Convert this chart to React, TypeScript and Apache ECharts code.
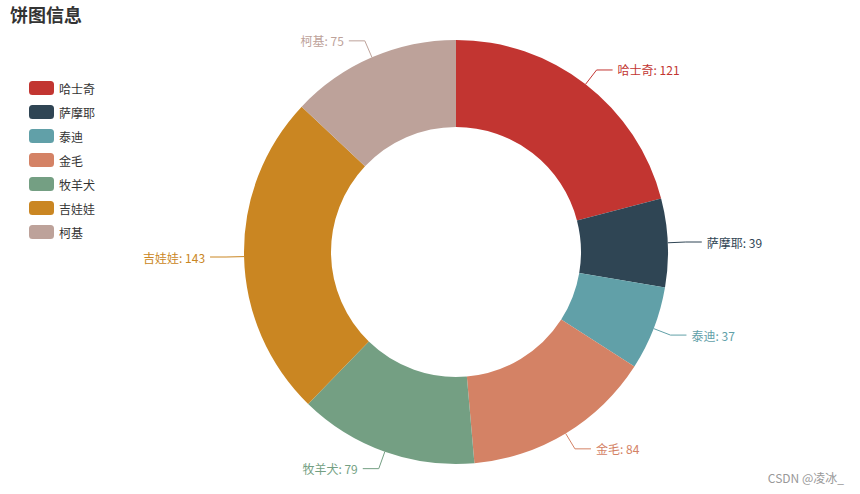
import { useEffect, useRef } from 'react'
import * as echarts from 'echarts'

const breeds = ['哈士奇', '萨摩耶', '泰迪', '金毛', '牧羊犬', '吉娃娃', '柯基']
const counts = [121, 39, 37, 84, 79, 143, 75]
const colors = ['#c23531', '#2f4554', '#61a0a8', '#d48265', '#749f83', '#ca8622', '#bda29a']

export default function App() {
  const main = useRef<HTMLDivElement>(null)
  useEffect(() => {
    const option = {
      animation: false,
      color: colors,
      textStyle: { fontFamily: '"Noto Sans CJK SC", sans-serif' },
      title: {
        text: '饼图信息',
        left: 5,
        top: 0,
        textStyle: { fontSize: 18, fontWeight: 'bold', color: '#333' },
      },
      legend: {
        orient: 'vertical',
        left: 24,
        top: 76,
        itemWidth: 25,
        itemHeight: 14,
        itemGap: 10,
        textStyle: { fontSize: 12, color: '#333' },
        data: breeds,
      },
      graphic: [
        {
          type: 'text',
          right: 16,
          top: 471,
          style: { text: 'CSDN @凌冰_', fontSize: 12, fill: '#999', fontFamily: '"Noto Sans CJK SC", sans-serif' },
        },
      ],
      series: [
        {
          name: '饼图信息',
          type: 'pie',
          center: [456, 252],
          radius: [125, 212],
          label: { fontSize: 12, color: 'inherit', formatter: '{b}: {c}' },
          labelLine: { length: 18, length2: 16, lineStyle: { width: 1 } },
          data: breeds.map((name, i) => ({ name, value: counts[i] })),
        },
      ],
    }
    const myCharts = echarts.init(main.current, null, { renderer: 'svg' })
    myCharts.setOption(option)
    return () => {
      myCharts.dispose()
    }
  }, [])
  return (
    <div ref={main} style={{ position: 'absolute', left: 0, top: 0, width: '860px', height: '494px' }}></div>
  )
}
